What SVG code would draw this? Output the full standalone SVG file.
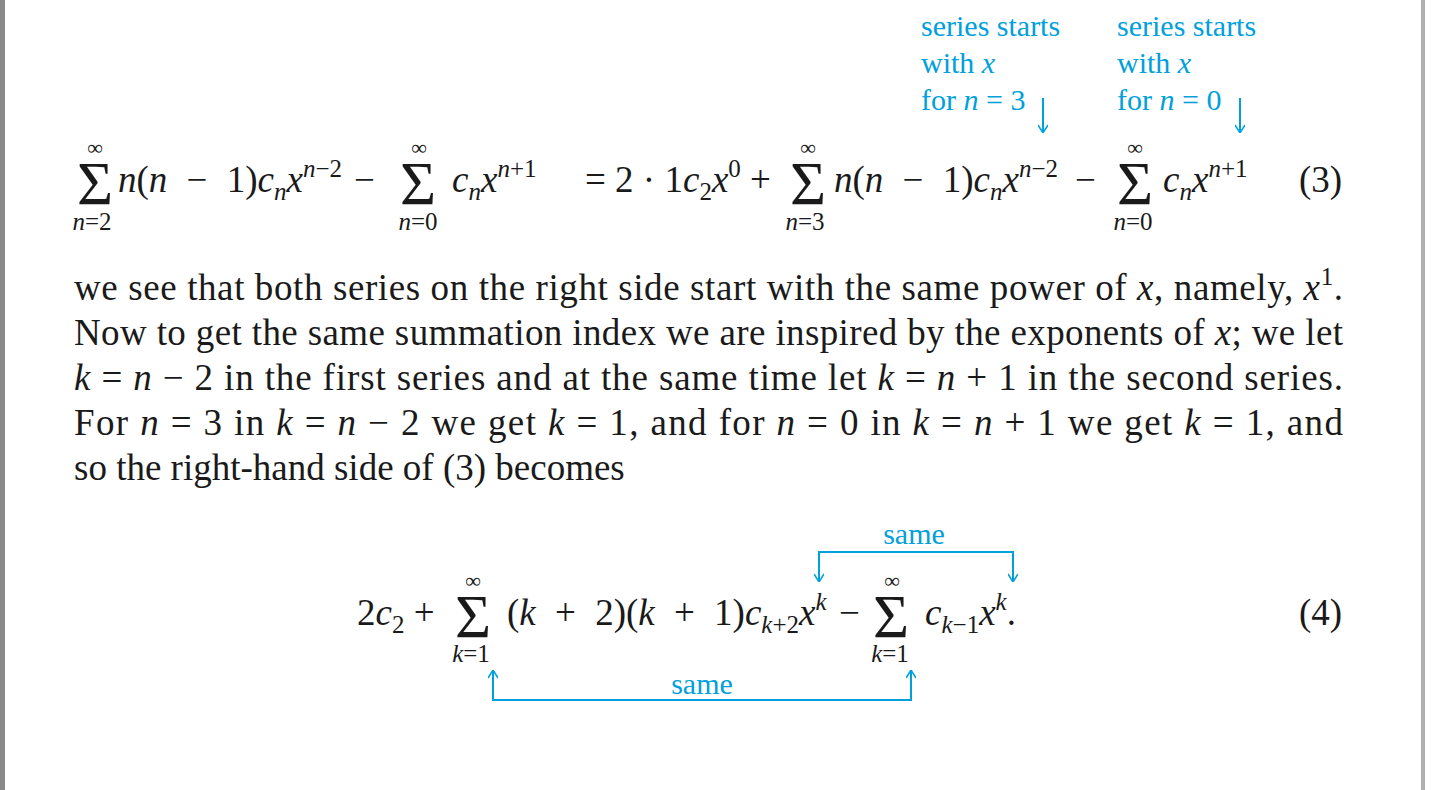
<svg xmlns="http://www.w3.org/2000/svg" width="1433" height="790" viewBox="0 0 1433 790">
<defs>
<style>
text{font-family:"Liberation Serif","Times New Roman",serif;fill:#1a1a1a}
.m{font-size:37px}
.w{word-spacing:10px}
.i{font-style:italic}
.s{font-size:25px}
.inf{font-size:22px}
.sig{font-size:62px}
.b{fill:#00a0dc;font-size:30px}
.ln{stroke:#00a0dc;stroke-width:2;fill:none}
</style>
<marker id="ah" viewBox="0 0 10 10" refX="10" refY="5" markerWidth="10" markerHeight="10" markerUnits="userSpaceOnUse" orient="auto-start-reverse"><path d="M2,0 L10,5 L2,10" fill="none" stroke="#00a0dc" stroke-width="1.5"/></marker>
</defs>
<rect width="1433" height="790" fill="#fff"/>
<rect x="0" y="0" width="5" height="790" fill="#8a8a8a"/>
<rect x="1421" y="0" width="4" height="790" fill="#b0b0b0"/>

<g id="labels">
<text class="b" x="921" y="36">series starts</text>
<text class="b" x="921" y="73">with <tspan class="i">x</tspan></text>
<text class="b" x="921" y="110">for <tspan class="i">n</tspan> = 3</text>
<text class="b" x="1117" y="36">series starts</text>
<text class="b" x="1117" y="73">with <tspan class="i">x</tspan></text>
<text class="b" x="1117" y="110">for <tspan class="i">n</tspan> = 0</text>
<text class="b" x="914" y="544" text-anchor="middle">same</text>
<text class="b" x="702" y="694" text-anchor="middle">same</text>
</g>

<g id="connectors">
<line class="ln" x1="1043" y1="98" x2="1043" y2="133" marker-end="url(#ah)"/>
<line class="ln" x1="1240" y1="98" x2="1240" y2="133" marker-end="url(#ah)"/>
<path class="ln" d="M819,582 V552 H1013 V582" marker-start="url(#ah)" marker-end="url(#ah)"/>
<path class="ln" d="M493,670 V700 H911 V670" marker-start="url(#ah)" marker-end="url(#ah)"/>
</g>

<g id="eq3">
<text class="sig" x="77" y="204">Σ</text>
<text class="inf" x="95" y="155" text-anchor="middle">∞</text>
<text class="s" x="92" y="230" text-anchor="middle"><tspan class="i">n</tspan>=2</text>
<text class="m w" x="118" y="192"><tspan class="i">n</tspan>(<tspan class="i">n</tspan> − 1)<tspan class="i">c</tspan><tspan class="s i" dy="8">n</tspan><tspan class="i" dy="-8">x</tspan><tspan class="s i" dy="-15">n</tspan><tspan class="s">−2</tspan></text>
<text class="m" x="354" y="192">−</text>
<text class="sig" x="400" y="204">Σ</text>
<text class="inf" x="419" y="155" text-anchor="middle">∞</text>
<text class="s" x="418" y="230" text-anchor="middle"><tspan class="i">n</tspan>=0</text>
<text class="m i" x="452" y="192">c<tspan class="s" dy="8">n</tspan><tspan dy="-8">x</tspan><tspan class="s" dy="-15">n</tspan><tspan class="s" font-style="normal">+1</tspan></text>
<text class="m" x="585" y="192">= 2 · 1<tspan class="i">c</tspan><tspan class="s" dy="8">2</tspan><tspan class="i" dy="-8">x</tspan><tspan class="s" dy="-15">0</tspan><tspan dy="15"> +</tspan></text>
<text class="sig" x="790" y="204">Σ</text>
<text class="inf" x="808" y="155" text-anchor="middle">∞</text>
<text class="s" x="805" y="230" text-anchor="middle"><tspan class="i">n</tspan>=3</text>
<text class="m w" x="834" y="192"><tspan class="i">n</tspan>(<tspan class="i">n</tspan> − 1)<tspan class="i">c</tspan><tspan class="s i" dy="8">n</tspan><tspan class="i" dy="-8">x</tspan><tspan class="s i" dy="-15">n</tspan><tspan class="s">−2</tspan></text>
<text class="m" x="1075" y="192">−</text>
<text class="sig" x="1117" y="204">Σ</text>
<text class="inf" x="1135" y="155" text-anchor="middle">∞</text>
<text class="s" x="1133" y="230" text-anchor="middle"><tspan class="i">n</tspan>=0</text>
<text class="m i" x="1163" y="192">c<tspan class="s" dy="8">n</tspan><tspan dy="-8">x</tspan><tspan class="s" dy="-15">n</tspan><tspan class="s" font-style="normal">+1</tspan></text>
<text class="m" x="1299" y="192">(3)</text>
</g>

<g id="para">
<text class="m" x="74" y="300" textLength="1269" lengthAdjust="spacing">we see that both series on the right side start with the same power of <tspan class="i">x</tspan>, namely, <tspan class="i">x</tspan><tspan class="s" dy="-15">1</tspan><tspan dy="15">.</tspan></text>
<text class="m" x="74" y="345" textLength="1269" lengthAdjust="spacing">Now to get the same summation index we are inspired by the exponents of <tspan class="i">x</tspan>; we let</text>
<text class="m" x="74" y="390" textLength="1269" lengthAdjust="spacing"><tspan class="i">k</tspan> = <tspan class="i">n</tspan> − 2 in the first series and at the same time let <tspan class="i">k</tspan> = <tspan class="i">n</tspan> + 1 in the second series.</text>
<text class="m" x="74" y="435" textLength="1269" lengthAdjust="spacing">For <tspan class="i">n</tspan> = 3 in <tspan class="i">k</tspan> = <tspan class="i">n</tspan> − 2 we get <tspan class="i">k</tspan> = 1, and for <tspan class="i">n</tspan> = 0 in <tspan class="i">k</tspan> = <tspan class="i">n</tspan> + 1 we get <tspan class="i">k</tspan> = 1, and</text>
<text class="m" x="74" y="480">so the right-hand side of (3) becomes</text>
</g>

<g id="eq4">
<text class="m" x="357" y="625">2<tspan class="i">c</tspan><tspan class="s" dy="8">2</tspan><tspan dy="-8"> +</tspan></text>
<text class="sig" x="455" y="637">Σ</text>
<text class="inf" x="473" y="588" text-anchor="middle">∞</text>
<text class="s" x="471" y="662" text-anchor="middle"><tspan class="i">k</tspan>=1</text>
<text class="m w" x="507" y="625">(<tspan class="i">k</tspan> + 2)(<tspan class="i">k</tspan> + 1)<tspan class="i">c</tspan><tspan class="s i" dy="8">k</tspan><tspan class="s">+2</tspan><tspan class="i" dy="-8">x</tspan><tspan class="s i" dy="-15">k</tspan></text>
<text class="m" x="839" y="625">−</text>
<text class="sig" x="873" y="637">Σ</text>
<text class="inf" x="892" y="588" text-anchor="middle">∞</text>
<text class="s" x="890" y="662" text-anchor="middle"><tspan class="i">k</tspan>=1</text>
<text class="m" x="925" y="625"><tspan class="i">c</tspan><tspan class="s i" dy="8">k</tspan><tspan class="s">−1</tspan><tspan class="i" dy="-8">x</tspan><tspan class="s i" dy="-15">k</tspan><tspan dy="15">.</tspan></text>
<text class="m" x="1299" y="625">(4)</text>
</g>
</svg>
